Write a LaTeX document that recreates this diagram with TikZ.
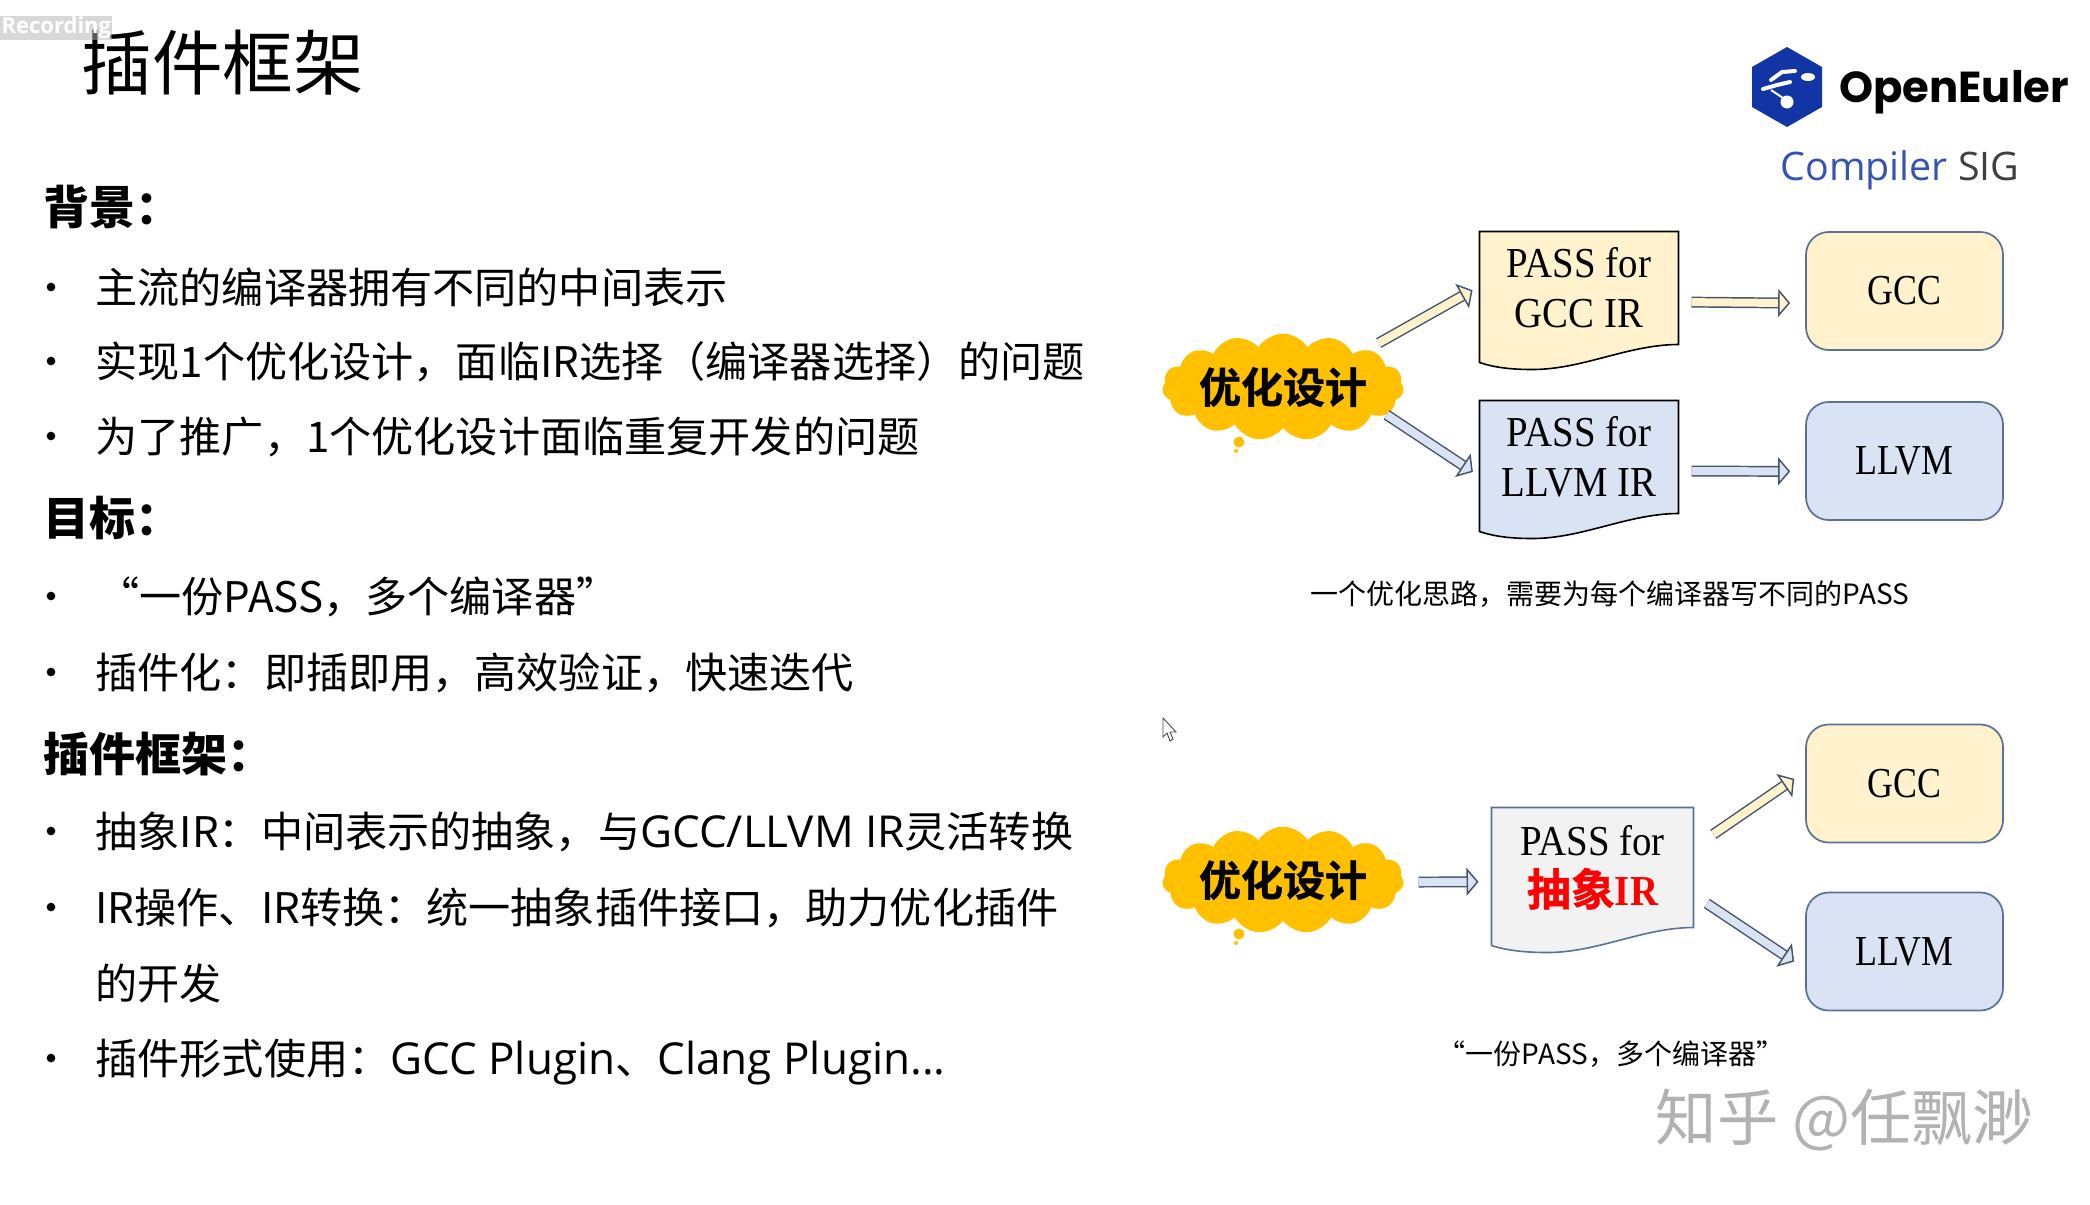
\documentclass[tikz,border=0pt]{standalone}
\usepackage{fontspec}
\setmainfont{Noto Sans CJK SC}
\newfontfamily\passfont[FakeStretch=0.91]{Liberation Serif}
\newfontfamily\targetfont[FakeStretch=0.84]{Liberation Serif}
\newfontfamily\heavyfont[UprightFont={* Bold},FakeBold=1]{Noto Sans CJK SC}
\newfontfamily\logofont{Poppins}
\newfontfamily\sigfont{Open Sans}
\newcommand{\latinword}[1]{{\fontsize{33}{38}\sigfont #1}}
\usetikzlibrary{positioning,calc,arrows.meta,backgrounds,shapes.symbols}

\definecolor{creamfill}{HTML}{FFF2CC}
\definecolor{bluefill}{HTML}{DAE3F3}
\definecolor{grayfill}{HTML}{F2F2F2}
\definecolor{edgeblue}{HTML}{5A7199}
\definecolor{edgedark}{HTML}{44546A}
\definecolor{cloudfill}{HTML}{FFC000}
\definecolor{logoblue}{HTML}{1235A6}

\tikzset{
  every picture/.style={line width=0.75pt},
  titletext/.style={anchor=base west,inner sep=0pt,font=\fontsize{53}{60}\selectfont},
  headtext/.style={anchor=base west,inner sep=0pt,font=\fontsize{34.5}{40}\selectfont\bfseries},
  bodytext/.style={anchor=base west,inner sep=0pt,font=\fontsize{31.6}{38}\selectfont},
  bulletmark/.style={circle,fill=black,inner sep=0pt,minimum size=6.5pt},
  captiontext/.style={inner sep=0pt,font=\fontsize{21}{26}\selectfont},
  cloudbox/.style={cloud,cloud puffs=15,cloud puff arc=115,cloud ignores aspect,fill=cloudfill,inner sep=0pt,
    minimum width=181pt,minimum height=80pt,
    font=\fontsize{31.5}{36}\heavyfont},
  passdoc/.style={inner sep=0pt,minimum width=148.5pt,minimum height=84pt,align=center,
    font=\fontsize{32}{37.5}\passfont},
  compiler/.style={draw=edgeblue,line width=1.3pt,rounded corners=17pt,inner sep=0pt,
    minimum width=147.75pt,minimum height=88.5pt,font=\fontsize{32}{35}\targetfont},
  blockarrow/.style={draw=edgedark,line width=1.1pt,double=#1,double distance=6pt,
    -{Triangle[open,length=9pt,width=21pt,fill=#1,line width=1.1pt]}},
}

\begin{document}
\begin{tikzpicture}[x=0.75pt,y=0.75pt,yscale=-1]
\useasboundingbox (0,0) rectangle (2090,1204);

% left column
\node (pluginTitle) [titletext] at (81,89) {插件框架};
\node (bgHead) [headtext] at (43,224) {背景：};
\node (bgOne) [bodytext] at (95,303) {主流的编译器拥有不同的中间表示};
\node (bgTwo) [bodytext] at (95,377) {实现1个优化设计，面临IR选择（编译器选择）的问题};
\node (bgThree) [bodytext] at (95,452) {为了推广，1个优化设计面临重复开发的问题};
\node (goalHead) [headtext] at (43,535) {目标：};
\node (goalOne) [bodytext] at (97,612) {“一份PASS，多个编译器”};
\node (goalTwo) [bodytext] at (95,688) {插件化：即插即用，高效验证，快速迭代};
\node (frameHead) [headtext] at (43,771) {插件框架：};
\node (frameOne) [bodytext] at (95,847) {抽象IR：中间表示的抽象，与\latinword{GCC/LLVM IR}灵活转换};
\node (frameTwo) [bodytext] at (95,923) {IR操作、IR转换：统一抽象插件接口，助力优化插件};
\node (frameTwob) [bodytext] at (95,999) {的开发};
\node (frameThree) [bodytext] at (95,1074) {插件形式使用：\latinword{GCC Plugin}、\latinword{Clang Plugin...}};
\foreach \y in {287,361,436,596,672,831,907,1058}
  \node (dot\y) [bulletmark] at (51,\y) {};

% logo
\draw [fill=logoblue,draw=none] (1787,47) -- (1822,67) -- (1822,107) -- (1787,127) -- (1752,107) -- (1752,67) -- cycle ;
\fill [white] (1808,77) ellipse (7 and 4);
\fill [white] (1787,102) circle (6.5);
\draw [white,line width=3pt,line cap=round] (1771,80) -- (1782,72) -- (1795,71) ;
\draw [white,line width=3pt,line cap=round] (1763,89) -- (1777,85) -- (1790,82) ;
\draw [white,line width=1.5pt] (1771,90) -- (1783,98) ;
\node (logoText) [inner sep=0pt,font=\fontsize{32.5}{36}\logofont\bfseries] at (1954,92) {OpenEuler};
\node (sigText) [inner sep=0pt,font=\fontsize{29.5}{34}\sigfont] at (1900,170) {\textcolor{logoblue!85}{Compiler} \textcolor{black!75}{SIG}};

% upper diagram
\node (cloudA) [cloudbox] at (1283,387) {优化设计};
\fill [cloudfill] (1239,442) circle (5.5) (1236,451) circle (2);
\node (docGCC) [passdoc] at (1579,288) {PASS for\\GCC IR};
\node (docLLVM) [passdoc] at (1579,457) {PASS for\\LLVM IR};
\node (gccA) [compiler,fill=creamfill] at (1904.5,291) {GCC};
\node (llvmA) [compiler,fill=bluefill] at (1904.5,461) {LLVM};
\node (captionA) [captiontext] at (1610,594) {一个优化思路，需要为每个编译器写不同的PASS};

% lower diagram
\node (cloudB) [cloudbox] at (1283,880) {优化设计};
\fill [cloudfill] (1239,934) circle (5.5) (1236,943) circle (2);
\node (docPass) [passdoc,minimum width=150.75pt,minimum height=89.25pt] at (1592.5,867.5) {PASS for\\{\color{red}{\fontsize{33}{37.5}\heavyfont 抽象}\bfseries IR}};
\node (gccB) [compiler,fill=creamfill] at (1904.5,783.5) {GCC};
\node (llvmB) [compiler,fill=bluefill] at (1904.5,951.5) {LLVM};
\node (captionB) [captiontext] at (1611,1054) {“一份PASS，多个编译器”};

\begin{pgfonlayer}{background}
\foreach \n/\c/\e in {docGCC/creamfill/black,docLLVM/bluefill/black,docPass/grayfill/edgeblue}
  \draw [fill=\c,draw=\e,line width=1.2pt] (\n.south east) .. controls +(-50,0) and +(50,0) .. ++(-146,25)
     .. controls +(-22,0) and +(15,5) .. ($(\n.south west)+(0,18)$) -- (\n.north west) -- (\n.north east) -- cycle ;
\end{pgfonlayer}

\draw [blockarrow=creamfill,shorten <=10pt,shorten >=6pt] (cloudA.24) -- (docGCC.179) ;
\draw [blockarrow=bluefill,shorten <=0pt,shorten >=6pt] (cloudA.-15) -- (docLLVM.191) ;
\draw [blockarrow=creamfill,shorten <=9.75pt,shorten >=11.25pt] (docGCC.-8.6) -- (gccA.187) ;
\draw [blockarrow=bluefill,shorten <=9.75pt,shorten >=11.25pt] (docLLVM.-8) -- (llvmA.186.4) ;
\draw [blockarrow=bluefill,shorten <=11pt,shorten >=9.75pt] (cloudB.-1) -- (docPass.188.8) ;
\draw [blockarrow=creamfill,shorten <=18pt,shorten >=10pt] (docPass.11.5) -- (gccB.173.3) ;
\draw [blockarrow=bluefill,shorten <=12pt,shorten >=10pt] (docPass.-15.3) -- (llvmB.190.6) ;

% screen recording leftovers
\node (recLabel) [anchor=west,text=white,fill=black!30,fill opacity=0.5,text opacity=1,inner sep=1pt,
  font=\fontsize{16.5}{18}\sigfont\bfseries] at (0,28) {Recording};
\draw [fill=white,draw=black!70,line width=0.7pt] (1163,718) -- (1163,737) -- (1167,733) -- (1170,741) -- (1173,739) -- (1170,732) -- (1176,732) -- cycle ;
\node (watermark) [text=black!30,inner sep=0pt,font=\fontsize{46}{50}\selectfont] at (1845,1120) {知乎 @任飘渺};

\end{tikzpicture}
\end{document}
